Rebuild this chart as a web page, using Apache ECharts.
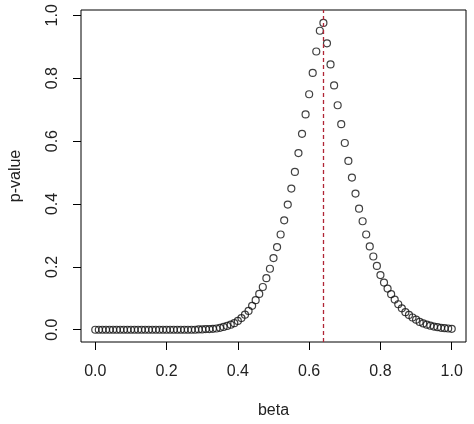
<!DOCTYPE html>
<html>
<head>
<meta charset="utf-8">
<script src="https://cdn.jsdelivr.net/npm/echarts@6/dist/echarts.min.js"></script>
<style>
  html, body { margin: 0; padding: 0; background: #fff; }
  #main { width: 474px; height: 424px; }
</style>
</head>
<body>
<div id="main"></div>
<script>
// beta grid, step 0.01
var betaValues = [
  0.00, 0.01, 0.02, 0.03, 0.04, 0.05, 0.06, 0.07, 0.08, 0.09,
  0.10, 0.11, 0.12, 0.13, 0.14, 0.15, 0.16, 0.17, 0.18, 0.19,
  0.20, 0.21, 0.22, 0.23, 0.24, 0.25, 0.26, 0.27, 0.28, 0.29,
  0.30, 0.31, 0.32, 0.33, 0.34, 0.35, 0.36, 0.37, 0.38, 0.39,
  0.40, 0.41, 0.42, 0.43, 0.44, 0.45, 0.46, 0.47, 0.48, 0.49,
  0.50, 0.51, 0.52, 0.53, 0.54, 0.55, 0.56, 0.57, 0.58, 0.59,
  0.60, 0.61, 0.62, 0.63, 0.64, 0.65, 0.66, 0.67, 0.68, 0.69,
  0.70, 0.71, 0.72, 0.73, 0.74, 0.75, 0.76, 0.77, 0.78, 0.79,
  0.80, 0.81, 0.82, 0.83, 0.84, 0.85, 0.86, 0.87, 0.88, 0.89,
  0.90, 0.91, 0.92, 0.93, 0.94, 0.95, 0.96, 0.97, 0.98, 0.99,
  1.00
];
// p-values
var pValues = [
  0, 0, 0, 0, 0, 0, 0, 0, 0, 0,
  0, 0, 0, 0, 0, 0, 0, 0, 0, 0,
  0, 0, 0, 0, 0, 0, 0, 0, 0, 0.001,
  0.001, 0.002, 0.002, 0.003, 0.004, 0.006, 0.009, 0.012, 0.016, 0.021,
  0.028, 0.037, 0.048, 0.060, 0.076, 0.094, 0.114, 0.136, 0.164, 0.194,
  0.228, 0.263, 0.303, 0.348, 0.398, 0.449, 0.502, 0.562, 0.623, 0.685,
  0.749, 0.817, 0.885, 0.951, 0.976, 0.911, 0.844, 0.777, 0.714, 0.654,
  0.594, 0.537, 0.484, 0.433, 0.385, 0.345, 0.303, 0.265, 0.233, 0.203,
  0.174, 0.150, 0.131, 0.113, 0.096, 0.081, 0.068, 0.056, 0.047, 0.039,
  0.032, 0.025, 0.020, 0.016, 0.013, 0.010, 0.008, 0.006, 0.005, 0.004,
  0.003
];
var xTicks = [0, 0.2, 0.4, 0.6, 0.8, 1.0];
var yTicks = [0, 0.2, 0.4, 0.6, 0.8, 1.0];
var betaHat = 0.64;

var points = [];
for (var i = 0; i < betaValues.length; i++) {
  points.push([betaValues[i], pValues[i]]);
}

var myChart = echarts.init(document.getElementById('main'));
var font = 'Liberation Sans, Arial, sans-serif';

var option = {
  animation: false,
  backgroundColor: '#fff',
  grid: {
    left: 76, right: 8, top: 10, bottom: 82,
    show: true,
    borderColor: '#000',
    borderWidth: 1
  },
  xAxis: {
    type: 'value',
    min: -0.04,
    max: 1.04,
    name: 'beta',
    nameLocation: 'middle',
    nameGap: 61,
    nameTextStyle: { fontFamily: font, fontSize: 16, color: '#222' },
    axisLine: { show: false, onZero: false },
    axisTick: { show: true, length: 8, customValues: xTicks, lineStyle: { color: '#000' } },
    axisLabel: {
      customValues: xTicks,
      margin: 22,
      fontFamily: font, fontSize: 16, color: '#222',
      formatter: function (v) { return v.toFixed(1); }
    },
    splitLine: { show: false }
  },
  yAxis: {
    type: 'value',
    min: -0.039,
    max: 1.017,
    name: 'p-value',
    nameLocation: 'middle',
    nameGap: 57,
    nameRotate: 90,
    nameTextStyle: { fontFamily: font, fontSize: 16, color: '#222' },
    axisLine: { show: false, onZero: false },
    axisTick: { show: true, length: 8, customValues: yTicks, lineStyle: { color: '#000' } },
    axisLabel: {
      customValues: yTicks,
      rotate: 90,
      margin: 20,
      fontFamily: font, fontSize: 16, color: '#222',
      formatter: function (v) { return v.toFixed(1); }
    },
    splitLine: { show: false }
  },
  series: [
    {
      type: 'scatter',
      data: points,
      symbol: 'circle',
      symbolSize: 7,
      itemStyle: {
        color: 'rgba(0,0,0,0)',
        borderColor: '#111',
        borderWidth: 1.2
      }
    },
    {
      // vertical reference line at the estimate
      type: 'scatter',
      data: [],
      itemStyle: { color: '#b02535' },
      markLine: {
        silent: true,
        symbol: 'none',
        label: { show: false },
        lineStyle: { color: '#b02535', type: [4, 3], width: 1.3 },
        data: [{ xAxis: betaHat }]
      }
    }
  ]
};

myChart.setOption(option);
</script>
</body>
</html>
